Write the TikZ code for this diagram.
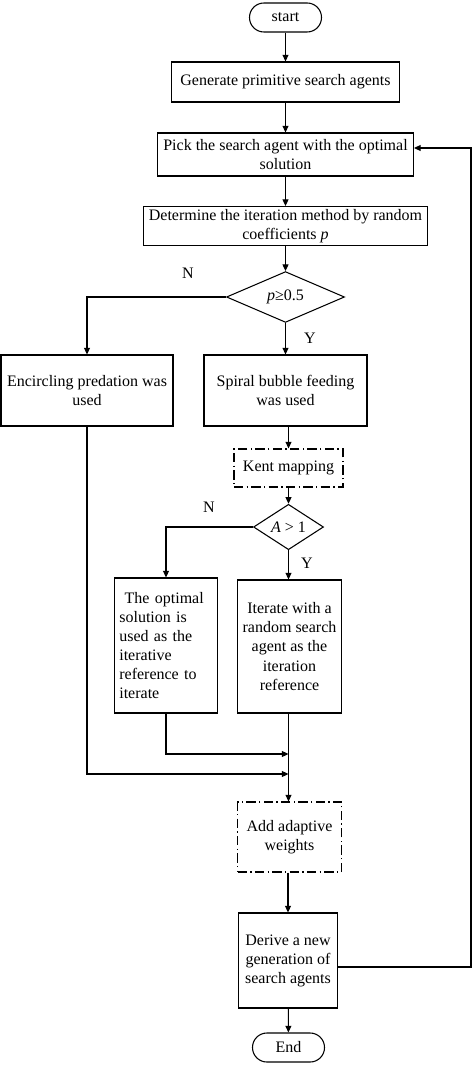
\documentclass[tikz,border=0pt]{standalone}
\usepackage{fontspec}
\setmainfont{Liberation Serif}
\usetikzlibrary{arrows.meta,shapes.geometric}
\tikzset{
  box/.style={draw,line width=0.8pt,align=center,inner sep=2pt},
  dbox/.style={box,dash pattern=on 7pt off 2.5pt on 1pt off 2.5pt},
  term/.style={box,rounded corners=10.8pt,minimum width=54pt,minimum height=21.75pt},
  cond/.style={draw,line width=0.8pt,diamond,inner sep=0pt},
  arr/.style={line width=0.8pt,-{Triangle[length=5pt,width=4.5pt]}},
  lab/.style={inner sep=0pt},
}
\begin{document}
\begin{tikzpicture}[x=0.75pt,y=-0.75pt,font=\fontsize{12}{14.3}\selectfont]
  \useasboundingbox (0,0) rectangle (474,1066);
  \node[term] (start) at (285.5,17.5) {start};
  \node[box,minimum width=171pt,minimum height=30pt] (gen) at (285.5,82) {Generate primitive search agents};
  \node[box,minimum width=192pt,minimum height=32.25pt] (pick) at (285.5,154.5) {Pick the search agent with the optimal\\solution};
  \node[box,minimum width=213pt,minimum height=28.5pt] (det) at (285.5,226) {Determine the iteration method by random\\coefficients \textit{p}};
  \node[cond,minimum width=88.5pt,minimum height=31.5pt] (dec1) at (285.5,297) {\textit{p}≥0.5};
  \node[box,minimum width=129pt,minimum height=53.25pt] (enc) at (87,390.5) {Encircling predation was\\used};
  \node[box,minimum width=122.25pt,minimum height=53.25pt] (spiral) at (285.5,390.5) {Spiral bubble feeding\\was used};
  \node[dbox,minimum width=81.75pt,minimum height=28.5pt] (kent) at (288.5,468) {Kent mapping};
  \node[cond,minimum width=52.5pt,minimum height=32.25pt] (dec2) at (288.5,527) {\textit{A} > 1};
  \node[box,align=left,text width=70pt,inner xsep=3pt,minimum width=77.25pt,minimum height=101.25pt] (opt) at (166,645.5)
    {\hspace*{4pt}The optimal\\solution is\\used as the\\iterative\\reference to\\iterate};
  \node[box,minimum width=78pt,minimum height=99.75pt] (iter) at (289.5,646.5) {Iterate with a\\random search\\agent as the\\iteration\\reference};
  \node[dbox,minimum width=78pt,minimum height=52.5pt] (adapt) at (289.5,837) {Add adaptive\\weights};
  \node[box,minimum width=74.25pt,minimum height=71.25pt] (derive) at (288,960.5) {Derive a new\\generation of\\search agents};
  \node[term] (end) at (288.5,1047.5) {End};
  \node[lab] (n1) at (188,273) {N};
  \node[lab] (y1) at (310,338) {Y};
  \node[lab] (n2) at (209,507) {N};
  \node[lab] (y2) at (307,563) {Y};
  \coordinate (j1) at (288.5,754);
  \coordinate (j2) at (288.5,774);
  \coordinate (back) at (471,967);
  \coordinate (back2) at (471,148);
  \draw[arr] (start) -- (gen);
  \draw[arr] (gen) -- (pick);
  \draw[arr] (pick) -- (det);
  \draw[arr] (det) -- (dec1);
  \draw[arr] (dec1.west) -| (enc.north);
  \draw[arr] (dec1) -- (spiral);
  \draw[arr] (spiral.south -| kent.north) -- (kent.north);
  \draw[arr] (kent) -- (dec2);
  \draw[arr] (dec2.west) -| (opt.north);
  \draw[arr] (dec2.south) -- (dec2.south |- iter.north);
  \draw[arr] (iter.south -| j1) -- (adapt.north -| j1);
  \draw[arr] (opt.south) |- (j1);
  \draw[arr] (enc.south) |- (j2);
  \draw[arr] (adapt.south -| derive.north) -- (derive.north);
  \draw[arr] (derive) -- (end);
  \draw[arr] (derive.east |- back) -- (back) -- (back2) -- (pick.east |- back2);
\end{tikzpicture}
\end{document}
